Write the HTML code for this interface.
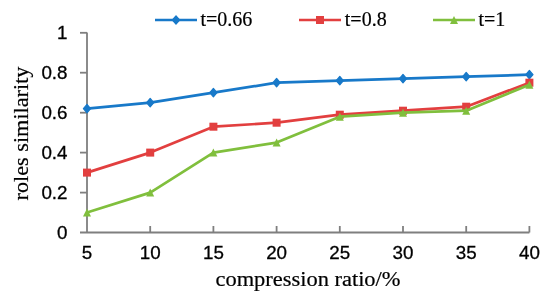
<!DOCTYPE html>
<html><head><meta charset="utf-8"><style>
html,body{margin:0;padding:0;background:#fff;width:550px;height:300px;overflow:hidden}
svg{display:block}
.n{font-family:"Liberation Sans",sans-serif;font-size:18.8px;fill:#000;stroke:#000;stroke-width:0.3px}
.t{font-family:"Liberation Serif",serif;font-size:20px;fill:#000;stroke:#000;stroke-width:0.2px}
</style></head><body>
<svg width="550" height="300" viewBox="0 0 550 300">
<path d="M87 32.5V232.5M80 232.5H529.4" stroke="#7f7f7f" stroke-width="1.8" fill="none"/>
<path d="M80 192.6H87" stroke="#7f7f7f" stroke-width="1.8"/>
<path d="M80 152.6H87" stroke="#7f7f7f" stroke-width="1.8"/>
<path d="M80 112.7H87" stroke="#7f7f7f" stroke-width="1.8"/>
<path d="M80 72.7H87" stroke="#7f7f7f" stroke-width="1.8"/>
<path d="M80 32.8H87" stroke="#7f7f7f" stroke-width="1.8"/>
<path d="M150.2 226V232.5" stroke="#7f7f7f" stroke-width="1.8"/>
<path d="M213.4 226V232.5" stroke="#7f7f7f" stroke-width="1.8"/>
<path d="M276.6 226V232.5" stroke="#7f7f7f" stroke-width="1.8"/>
<path d="M339.8 226V232.5" stroke="#7f7f7f" stroke-width="1.8"/>
<path d="M403.0 226V232.5" stroke="#7f7f7f" stroke-width="1.8"/>
<path d="M466.2 226V232.5" stroke="#7f7f7f" stroke-width="1.8"/>
<path d="M529.4 226V232.5" stroke="#7f7f7f" stroke-width="1.8"/>
<polyline points="87.0,108.7 150.2,102.7 213.4,92.7 276.6,82.7 339.8,80.7 403.0,78.7 466.2,76.7 529.4,74.7" fill="none" stroke="#1879c9" stroke-width="2.7" stroke-linejoin="round"/>
<path d="M87.0 104.5L90.6 108.7L87.0 112.9L83.4 108.7Z" fill="#1879c9" stroke="#1879c9" stroke-width="1.2" stroke-linejoin="round"/>
<path d="M150.2 98.5L153.8 102.7L150.2 106.9L146.6 102.7Z" fill="#1879c9" stroke="#1879c9" stroke-width="1.2" stroke-linejoin="round"/>
<path d="M213.4 88.5L217.0 92.7L213.4 96.9L209.8 92.7Z" fill="#1879c9" stroke="#1879c9" stroke-width="1.2" stroke-linejoin="round"/>
<path d="M276.6 78.5L280.2 82.7L276.6 86.9L273.0 82.7Z" fill="#1879c9" stroke="#1879c9" stroke-width="1.2" stroke-linejoin="round"/>
<path d="M339.8 76.5L343.4 80.7L339.8 84.9L336.2 80.7Z" fill="#1879c9" stroke="#1879c9" stroke-width="1.2" stroke-linejoin="round"/>
<path d="M403.0 74.5L406.6 78.7L403.0 82.9L399.4 78.7Z" fill="#1879c9" stroke="#1879c9" stroke-width="1.2" stroke-linejoin="round"/>
<path d="M466.2 72.5L469.8 76.7L466.2 80.9L462.6 76.7Z" fill="#1879c9" stroke="#1879c9" stroke-width="1.2" stroke-linejoin="round"/>
<path d="M529.4 70.5L533.0 74.7L529.4 78.9L525.8 74.7Z" fill="#1879c9" stroke="#1879c9" stroke-width="1.2" stroke-linejoin="round"/>
<polyline points="87.0,172.6 150.2,152.6 213.4,126.7 276.6,122.7 339.8,114.7 403.0,110.7 466.2,106.7 529.4,82.7" fill="none" stroke="#e23f3f" stroke-width="2.7" stroke-linejoin="round"/>
<rect x="83.0" y="168.6" width="8" height="8" fill="#e23f3f"/>
<rect x="146.2" y="148.6" width="8" height="8" fill="#e23f3f"/>
<rect x="209.4" y="122.7" width="8" height="8" fill="#e23f3f"/>
<rect x="272.6" y="118.7" width="8" height="8" fill="#e23f3f"/>
<rect x="335.8" y="110.7" width="8" height="8" fill="#e23f3f"/>
<rect x="399.0" y="106.7" width="8" height="8" fill="#e23f3f"/>
<rect x="462.2" y="102.7" width="8" height="8" fill="#e23f3f"/>
<rect x="525.4" y="78.7" width="8" height="8" fill="#e23f3f"/>
<polyline points="87.0,212.5 150.2,192.6 213.4,152.6 276.6,142.6 339.8,116.7 403.0,112.7 466.2,110.7 529.4,84.7" fill="none" stroke="#80bf3d" stroke-width="2.7" stroke-linejoin="round"/>
<path d="M87.0 208.5L91.0 216.5L83.0 216.5Z" fill="#80bf3d"/>
<path d="M150.2 188.6L154.2 196.6L146.2 196.6Z" fill="#80bf3d"/>
<path d="M213.4 148.6L217.4 156.6L209.4 156.6Z" fill="#80bf3d"/>
<path d="M276.6 138.6L280.6 146.6L272.6 146.6Z" fill="#80bf3d"/>
<path d="M339.8 112.7L343.8 120.7L335.8 120.7Z" fill="#80bf3d"/>
<path d="M403.0 108.7L407.0 116.7L399.0 116.7Z" fill="#80bf3d"/>
<path d="M466.2 106.7L470.2 114.7L462.2 114.7Z" fill="#80bf3d"/>
<path d="M529.4 80.7L533.4 88.7L525.4 88.7Z" fill="#80bf3d"/>
<text x="67.5" y="239.0" text-anchor="end" class="n">0</text>
<text x="67.5" y="199.1" text-anchor="end" class="n">0.2</text>
<text x="67.5" y="159.1" text-anchor="end" class="n">0.4</text>
<text x="67.5" y="119.2" text-anchor="end" class="n">0.6</text>
<text x="67.5" y="79.2" text-anchor="end" class="n">0.8</text>
<text x="67.5" y="39.3" text-anchor="end" class="n">1</text>
<text x="87.0" y="259" text-anchor="middle" class="n">5</text>
<text x="150.2" y="259" text-anchor="middle" class="n">10</text>
<text x="213.4" y="259" text-anchor="middle" class="n">15</text>
<text x="276.6" y="259" text-anchor="middle" class="n">20</text>
<text x="339.8" y="259" text-anchor="middle" class="n">25</text>
<text x="403.0" y="259" text-anchor="middle" class="n">30</text>
<text x="466.2" y="259" text-anchor="middle" class="n">35</text>
<text x="529.4" y="259" text-anchor="middle" class="n">40</text>
<text x="308" y="286" text-anchor="middle" class="t" textLength="185" lengthAdjust="spacingAndGlyphs">compression ratio/%</text>
<text transform="translate(28,133.5) rotate(-90)" text-anchor="middle" class="t" textLength="134" lengthAdjust="spacingAndGlyphs">roles similarity</text>
<path d="M155 20H197" stroke="#1879c9" stroke-width="2.3"/>
<path d="M176.0 15.8L179.6 20.0L176.0 24.2L172.4 20.0Z" fill="#1879c9" stroke="#1879c9" stroke-width="1.2" stroke-linejoin="round"/>
<path d="M299 20H341" stroke="#e23f3f" stroke-width="2.3"/>
<rect x="316.0" y="16.0" width="8" height="8" fill="#e23f3f"/>
<path d="M433 20H475" stroke="#80bf3d" stroke-width="2.3"/>
<path d="M454.0 16.0L458.0 24.0L450.0 24.0Z" fill="#80bf3d"/>
<text x="200.5" y="26" class="t">t=0.66</text>
<text x="344.8" y="26" class="t">t=0.8</text>
<text x="478.5" y="26" class="t">t=1</text>
</svg>
</body></html>
